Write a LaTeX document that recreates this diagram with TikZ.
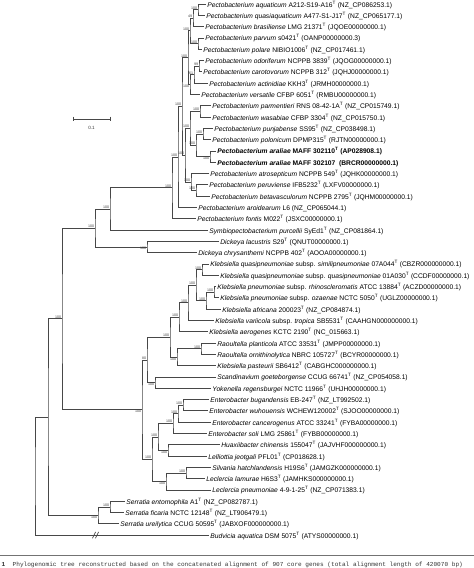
\documentclass[tikz,border=0pt]{standalone}
\usepackage{fontspec}
\setmainfont{Liberation Sans}
\setmonofont{Liberation Mono}
\usetikzlibrary{calc}
\newcommand{\typeT}{\textsuperscript{T}}

\begin{document}
\begin{tikzpicture}[
  x=1pt, y=-1pt,
  leafNode/.style  ={anchor=west, inner sep=1.2pt, font=\fontsize{6.7}{7.5}\selectfont, text height=1.6ex, text depth=0.45ex},
  bootLabel/.style ={anchor=south east, inner xsep=0.6pt, inner ysep=0.3pt, font=\fontsize{3.6}{4}\selectfont, text=black!75},
  bootBelow/.style ={bootLabel, anchor=north east},
  branch/.style    ={draw=black!72, line width=0.65pt},
  scaleText/.style ={font=\fontsize{4.6}{5}\selectfont, text=black!80, inner sep=0.5pt},
  captionText/.style={anchor=west, inner sep=0.5pt, font=\ttfamily\fontsize{6.1}{7}\selectfont, text=black!80}
]
\useasboundingbox (0,0) rectangle (474,568);

% ================== LEAVES: PECTOBACTERIUM ==================
\node[leafNode] (aquaticum)      at (206,   4.0) {\textit{Pectobacterium aquaticum} A212-S19-A16\typeT{} (NZ\_CP086253.1)};
\node[leafNode] (quasiaquaticum) at (205,  15.3) {\textit{Pectobacterium quasiaquaticum} A477-S1-J17\typeT{} (NZ\_CP065177.1)};
\node[leafNode] (brasiliense)    at (204,  26.6) {\textit{Pectobacterium brasiliense} LMG 21371\typeT{} (JQOE00000000.1)};
\node[leafNode] (parvum)         at (204,  37.9) {\textit{Pectobacterium parvum} s0421\typeT{} (OANP00000000.3)};
\node[leafNode] (polare)         at (202,  49.2) {\textit{Pectobacterium polare} NIBIO1006\typeT{} (NZ\_CP017461.1)};
\node[leafNode] (odoriferum)     at (204,  60.5) {\textit{Pectobacterium odoriferum} NCPPB 3839\typeT{} (JQOG00000000.1)};
\node[leafNode] (carotovorum)    at (202,  71.8) {\textit{Pectobacterium carotovorum} NCPPB 312\typeT{} (JQHJ00000000.1)};
\node[leafNode] (actinidiae)     at (208,  83.1) {\textit{Pectobacterium actinidiae} KKH3\typeT{} (JRMH00000000.1)};
\node[leafNode] (versatile)      at (200,  94.4) {\textit{Pectobacterium versatile} CFBP 6051\typeT{} (RMBU00000000.1)};
\node[leafNode] (parmentieri)    at (211, 105.7) {\textit{Pectobacterium parmentieri} RNS 08-42-1A\typeT{} (NZ\_CP015749.1)};
\node[leafNode] (wasabiae)       at (211, 117.0) {\textit{Pectobacterium wasabiae} CFBP 3304\typeT{} (NZ\_CP015750.1)};
\node[leafNode] (punjabense)     at (213, 128.3) {\textit{Pectobacterium punjabense} SS95\typeT{} (NZ\_CP038498.1)};
\node[leafNode] (polonicum)      at (211, 139.6) {\textit{Pectobacterium polonicum} DPMP315\typeT{} (RJTN00000000.1)};
\node[leafNode] (araliaeA)       at (216, 150.9) {\textbf{\textit{Pectobacterium araliae} MAFF 302110\typeT{} (AP028908.1)}};
\node[leafNode] (araliaeB)       at (216, 162.2) {\textbf{\textit{Pectobacterium araliae} MAFF 302107 \ (BRCR00000000.1)}};
\node[leafNode] (atrosepticum)   at (209, 173.5) {\textit{Pectobacterium atrosepticum} NCPPB 549\typeT{} (JQHK00000000.1)};
\node[leafNode] (peruviense)     at (208, 184.8) {\textit{Pectobacterium peruviense} IFB5232\typeT{} (LXFV00000000.1)};
\node[leafNode] (betavasculorum) at (210, 196.1) {\textit{Pectobacterium betavasculorum} NCPPB 2795\typeT{} (JQHM00000000.1)};
\node[leafNode] (aroidearum)     at (197, 207.4) {\textit{Pectobacterium aroidearum} L6 (NZ\_CP065044.1)};
\node[leafNode] (fontis)         at (196, 218.7) {\textit{Pectobacterium fontis} M022\typeT{} (JSXC00000000.1)};
\node[leafNode] (symbio)         at (208, 230.0) {\textit{Symbiopectobacterium purcellii} SyEd1\typeT{} (NZ\_CP081864.1)};
\node[leafNode] (lacustris)      at (219, 241.3) {\textit{Dickeya lacustris} S29\typeT{} (QNUT00000000.1)};
\node[leafNode] (chrysanthemi)   at (197, 252.6) {\textit{Dickeya chrysanthemi} NCPPB 402\typeT{} (AOOA00000000.1)};

% ================== LEAVES: KLEBSIELLA / RAOULTELLA ==================
\node[leafNode] (kqSimili)     at (209, 263.9) {\textit{Klebsiella quasipneumoniae} subsp. \textit{similipneumoniae} 07A044\typeT{} (CBZR000000000.1)};
\node[leafNode] (kqQuasi)      at (219, 275.2) {\textit{Klebsiella quasipneumoniae} subsp. \textit{quasipneumoniae} 01A030\typeT{} (CCDF00000000.1)};
\node[leafNode] (kpRhino)      at (216, 286.5) {\textit{Klebsiella pneumoniae} subsp. \textit{rhinoscleromatis} ATCC 13884\typeT{} (ACZD00000000.1)};
\node[leafNode] (kpOzaenae)    at (219, 297.8) {\textit{Klebsiella pneumoniae} subsp. \textit{ozaenae} NCTC 5050\typeT{} (UGLZ00000000.1)};
\node[leafNode] (africana)     at (221, 309.1) {\textit{Klebsiella africana} 200023\typeT{} (NZ\_CP084874.1)};
\node[leafNode] (variicola)    at (214, 320.4) {\textit{Klebsiella variicola} subsp. \textit{tropica} SB5531\typeT{} (CAAHGN000000000.1)};
\node[leafNode] (aerogenes)    at (208, 331.7) {\textit{Klebsiella aerogenes} KCTC 2190\typeT{} (NC\_015663.1)};
\node[leafNode] (planticola)   at (216, 343.0) {\textit{Raoultella planticola} ATCC 33531\typeT{} (JMPP00000000.1)};
\node[leafNode] (ornithino)    at (216, 354.3) {\textit{Raoultella ornithinolytica} NBRC 105727\typeT{} (BCYR00000000.1)};
\node[leafNode] (pasteurii)    at (216, 365.6) {\textit{Klebsiella pasteurii} SB6412\typeT{} (CABGHC000000000.1)};
\node[leafNode] (scandinavium) at (216, 376.9) {\textit{Scandinavium goeteborgense} CCUG 66741\typeT{} (NZ\_CP054058.1)};
\node[leafNode] (yokenella)    at (211, 388.2) {\textit{Yokenella regensburgei} NCTC 11966\typeT{} (UHJH00000000.1)};

% ================== LEAVES: ENTEROBACTER AND RELATIVES ==================
\node[leafNode] (bugandensis)  at (209, 399.5) {\textit{Enterobacter bugandensis} EB-247\typeT{} (NZ\_LT992502.1)};
\node[leafNode] (wuhouensis)   at (208, 410.8) {\textit{Enterobacter wuhouensis} WCHEW120002\typeT{} (SJOO00000000.1)};
\node[leafNode] (cancerogenus) at (211, 422.1) {\textit{Enterobacter cancerogenus} ATCC 33241\typeT{} (FYBA00000000.1)};
\node[leafNode] (soli)         at (207, 433.4) {\textit{Enterobacter soli} LMG 25861\typeT{} (FYBB00000000.1)};
\node[leafNode] (huaxii)       at (220, 444.7) {\textit{Huaxiibacter chinensis} 155047\typeT{} (JAJVHF000000000.1)};
\node[leafNode] (lelliottia)   at (207, 456.0) {\textit{Lelliottia jeotgali} PFL01\typeT{} (CP018628.1)};
\node[leafNode] (silvania)     at (211, 467.3) {\textit{Silvania hatchlandensis} H19S6\typeT{} (JAMGZK000000000.1)};
\node[leafNode] (lamurae)      at (205, 478.6) {\textit{Leclercia lamurae} H6S3\typeT{} (JAMHKS000000000.1)};
\node[leafNode] (lecPneu)      at (211, 489.9) {\textit{Leclercia pneumoniae} 4-9-1-25\typeT{} (NZ\_CP071383.1)};

% ================== LEAVES: SERRATIA + OUTGROUP ==================
\node[leafNode] (entomophila)  at (125, 501.2) {\textit{Serratia entomophila} A1\typeT{} (NZ\_CP082787.1)};
\node[leafNode] (ficaria)      at (124, 512.5) {\textit{Serratia ficaria} NCTC 12148\typeT{} (NZ\_LT906479.1)};
\node[leafNode] (ureilytica)   at (119, 523.8) {\textit{Serratia ureilytica} CCUG 50595\typeT{} (JABXOF000000000.1)};
\node[leafNode] (budvicia)     at (209, 535.1) {\textit{Budvicia aquatica} DSM 5075\typeT{} (ATYS00000000.1)};

% ================== INTERNAL NODES ==================
\coordinate (nAq)   at (198,   9.65);
\coordinate (nBr)   at (193,  18.1);
\coordinate (nPp)   at (198,  43.55);
\coordinate (nTop)  at (190,  30.8);
\coordinate (nOd)   at (199,  66.15);
\coordinate (nAc)   at (194,  74.6);
\coordinate (nVe)   at (190,  84.5);
\coordinate (nA)    at (188,  57.65);
\coordinate (nPw)   at (200, 111.35);
\coordinate (nPu)   at (203, 133.95);
\coordinate (nAr)   at (210, 156.55);
\coordinate (nPua)  at (196, 145.25);
\coordinate (nPwa)  at (190, 128.3);
\coordinate (nPe)   at (196, 190.45);
\coordinate (nAt)   at (191, 182.0);
\coordinate (nC)    at (185, 155.15);
\coordinate (nB)    at (182, 106.4);
\coordinate (nD)    at (178, 156.9);
\coordinate (nE)    at (172, 187.8);
\coordinate (nSy)   at (110, 208.9);
\coordinate (nDi)   at (147, 246.95);
\coordinate (nPec)  at (95,  227.9);

\coordinate (nKq)   at (202, 269.55);
\coordinate (nKp)   at (214, 292.15);
\coordinate (nKpa)  at (206, 300.6);
\coordinate (nKqp)  at (196, 285.1);
\coordinate (nKv)   at (188, 302.75);
\coordinate (nKl)   at (179, 317.2);
\coordinate (nRa)   at (201, 348.65);
\coordinate (nRp)   at (177, 357.1);
\coordinate (nKr)   at (170, 337.15);
\coordinate (nSc)   at (155, 382.55);
\coordinate (nKs)   at (147, 359.85);

\coordinate (nBw)   at (183, 405.15);
\coordinate (nBwc)  at (178, 413.6);
\coordinate (nEnt)  at (173, 423.5);
\coordinate (nHl)   at (168, 450.35);
\coordinate (nEh)   at (158, 436.9);
\coordinate (nSl)   at (186, 472.95);
\coordinate (nSlp)  at (166, 481.4);
\coordinate (nEl)   at (152, 459.15);
\coordinate (nEnb)  at (142, 409.5);

\coordinate (n62)   at (62,  318.7);
\coordinate (nSe1)  at (110, 506.85);
\coordinate (nSe)   at (98,  515.3);
\coordinate (n48)   at (48,  417.0);
\coordinate (nRoot) at (35,  476.05);

% ================== BRANCHES ==================
\draw[branch] (aquaticum) -| (nAq) |- (quasiaquaticum);
\draw[branch] (nAq) -| (nBr) |- (brasiliense);
\draw[branch] (parvum) -| (nPp) |- (polare);
\draw[branch] (nBr) -| (nTop) |- (nPp);
\draw[branch] (odoriferum) -| (nOd) |- (carotovorum);
\draw[branch] (nOd) -| (nAc) |- (actinidiae);
\draw[branch] (nAc) -| (nVe) |- (versatile);
\draw[branch] (nTop) -| (nA) |- (nVe);
\draw[branch] (parmentieri) -| (nPw) |- (wasabiae);
\draw[branch] (punjabense) -| (nPu) |- (polonicum);
\draw[branch] (araliaeA) -| (nAr) |- (araliaeB);
\draw[branch] (nPu) -| (nPua) |- (nAr);
\draw[branch] (nPw) -| (nPwa) |- (nPua);
\draw[branch] (peruviense) -| (nPe) |- (betavasculorum);
\draw[branch] (atrosepticum) -| (nAt) |- (nPe);
\draw[branch] (nPwa) -| (nC) |- (nAt);
\draw[branch] (nA) -| (nB) |- (nC);
\draw[branch] (nB) -| (nD) |- (aroidearum);
\draw[branch] (nD) -| (nE) |- (fontis);
\draw[branch] (nE) -| (nSy) |- (symbio);
\draw[branch] (lacustris) -| (nDi) |- (chrysanthemi);
\draw[branch] (nSy) -| (nPec) |- (nDi);

\draw[branch] (kqSimili) -| (nKq) |- (kqQuasi);
\draw[branch] (kpRhino) -| (nKp) |- (kpOzaenae);
\draw[branch] (nKp) -| (nKpa) |- (africana);
\draw[branch] (nKq) -| (nKqp) |- (nKpa);
\draw[branch] (nKqp) -| (nKv) |- (variicola);
\draw[branch] (nKv) -| (nKl) |- (aerogenes);
\draw[branch] (planticola) -| (nRa) |- (ornithino);
\draw[branch] (nRa) -| (nRp) |- (pasteurii);
\draw[branch] (nKl) -| (nKr) |- (nRp);
\draw[branch] (scandinavium) -| (nSc) |- (yokenella);
\draw[branch] (nKr) -| (nKs) |- (nSc);

\draw[branch] (bugandensis) -| (nBw) |- (wuhouensis);
\draw[branch] (nBw) -| (nBwc) |- (cancerogenus);
\draw[branch] (nBwc) -| (nEnt) |- (soli);
\draw[branch] (huaxii) -| (nHl) |- (lelliottia);
\draw[branch] (nEnt) -| (nEh) |- (nHl);
\draw[branch] (silvania) -| (nSl) |- (lamurae);
\draw[branch] (nSl) -| (nSlp) |- (lecPneu);
\draw[branch] (nEh) -| (nEl) |- (nSlp);
\draw[branch] (nKs) -| (nEnb) |- (nEl);
\draw[branch] (nPec) -| (n62) |- (nEnb);

\draw[branch] (entomophila) -| (nSe1) |- (ficaria);
\draw[branch] (nSe1) -| (nSe) |- (ureilytica);
\draw[branch] (n62) -| (n48) |- (nSe);
\draw[branch] (n48) -| (nRoot) |- (budvicia);

% break mark on the outgroup branch
\coordinate (brk) at (96, 535.1);
\draw[branch] ($(brk)+(-3.6,3.2)$) -- ($(brk)+(-0.4,-3.2)$);
\draw[branch] ($(brk)+(-0.6,3.2)$) -- ($(brk)+(2.6,-3.2)$);

% ================== BOOTSTRAP VALUES ==================
\node[bootLabel] at (nAq)  {100};
\node[bootLabel] at (nBr)  {49};
\node[bootLabel] at (nPp)  {100};
\node[bootLabel] at (nTop) {100};
\node[bootLabel] at (nOd)  {99};
\node[bootLabel] at (nAc)  {61};
\node[bootBelow] at (nVe)  {100};
\node[bootLabel] at (nA)   {100};
\node[bootLabel] at (nPw)  {100};
\node[bootLabel] at (nPu)  {100};
\node[bootBelow] at (nAr)  {100};
\node[bootLabel] at (nPua) {100};
\node[bootLabel] at (nPwa) {100};
\node[bootLabel] at (nPe)  {100};
\node[bootLabel] at (nAt)  {100};
\node[bootLabel] at (nC)   {100};
\node[bootLabel] at (nB)   {100};
\node[bootLabel] at (nD)   {100};
\node[bootLabel] at (nE)   {100};
\node[bootLabel] at (nSy)  {100};
\node[bootBelow] at (nDi)  {100};
\node[bootLabel] at (nPec) {100};
\node[bootLabel] at (nKq)  {100};
\node[bootLabel] at (nKp)  {100};
\node[bootLabel] at (nKpa) {100};
\node[bootLabel] at (nKqp) {100};
\node[bootLabel] at (nKv)  {100};
\node[bootLabel] at (nKl)  {100};
\node[bootLabel] at (nRa)  {100};
\node[bootBelow] at (nRp)  {100};
\node[bootLabel] at (nKr)  {100};
\node[bootBelow] at (nSc)  {100};
\node[bootLabel] at (nKs)  {80};
\node[bootLabel] at (nBw)  {100};
\node[bootLabel] at (nBwc) {100};
\node[bootLabel] at (nEnt) {100};
\node[bootBelow] at (nHl)  {100};
\node[bootLabel] at (nEh)  {100};
\node[bootLabel] at (nSl)  {100};
\node[bootBelow] at (nSlp) {100};
\node[bootLabel] at (nEl)  {100};
\node[bootBelow] at (nEnb) {100};
\node[bootLabel] at (n62)  {100};
\node[bootLabel] at (nSe1) {100};
\node[bootBelow] at (nSe)  {100};

% ================== SCALE BAR ==================
\coordinate (sbL) at (73, 119);
\coordinate (sbR) at (110, 119);
\draw[branch] (sbL) -- (sbR);
\draw[branch] ($(sbL)+(0,-2.3)$) -- ($(sbL)+(0,2.3)$);
\draw[branch] ($(sbR)+(0,-2.3)$) -- ($(sbR)+(0,2.3)$);
\node[scaleText] (sbText) at ($(sbL)!0.5!(sbR)+(0,9)$) {0.1};

% ================== CAPTION ==================
\coordinate (ruleL) at (0, 555);
\coordinate (ruleR) at (474, 555);
\draw[draw=black!55, line width=0.8pt] (ruleL) -- (ruleR);
\node[captionText] (caption) at (1, 564.5) {\textbf{1}\ \ Phylogenomic tree reconstructed based on the concatenated alignment of 907 core genes (total alignment length of 420070 bp)};

\end{tikzpicture}
\end{document}
